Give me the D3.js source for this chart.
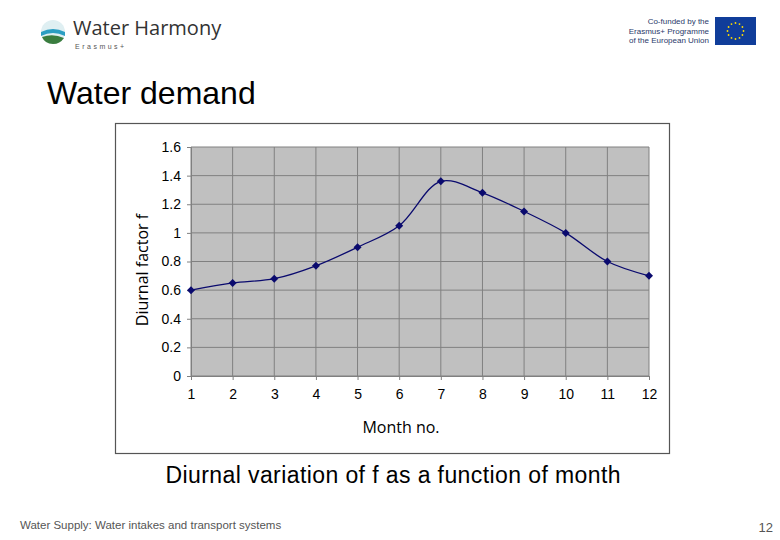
<!DOCTYPE html>
<html><head><meta charset="utf-8">
<script src="https://cdn.jsdelivr.net/npm/d3@7"></script>
<style>body{margin:0;background:#fff}</style></head>
<body><svg id="c" width="780" height="540"></svg>
<script>
const months = [1,2,3,4,5,6,7,8,9,10,11,12];
const factor = [0.6,0.65,0.68,0.77,0.9,1.05,1.36,1.28,1.15,1.0,0.8,0.7];
const yTicks = [0,0.2,0.4,0.6,0.8,1,1.2,1.4,1.6];

const svg = d3.select("#c");
const F = "Liberation Sans, Arial, sans-serif";

// Logo left
const lg = svg.append("g");
lg.append("circle").attr("cx",53).attr("cy",32).attr("r",12).attr("fill","#dfeff2");
lg.append("path").attr("d","M41,32 Q53,26 65,32 L65,36 Q53,30 41,36Z").attr("fill","#2b9ec2");
lg.append("path").attr("d","M42,37 Q53,33 64,38 Q60,44 53,44 Q45,44 42,37Z").attr("fill","#3a7d3f");
lg.append("text").attr("x",73).attr("y",35).attr("font-family","Open Sans, sans-serif").attr("font-size",20).attr("fill","#333").text("Water Harmony");
lg.append("text").attr("x",75).attr("y",49).attr("font-family",F).attr("font-size",7).attr("letter-spacing",2.5).attr("fill","#555").text("Erasmus+");

// EU logo
const eu = svg.append("g");
["Co-funded by the","Erasmus+ Programme","of the European Union"].forEach((t,i)=>
  eu.append("text").attr("x",709).attr("y",24+i*9.5).attr("text-anchor","end").attr("font-family",F).attr("font-size",8).attr("fill","#2a3a6a").text(t));
eu.append("rect").attr("x",715).attr("y",17).attr("width",41).attr("height",28).attr("fill","#103d9a");
for(let k=0;k<12;k++){const a=k*Math.PI/6;
  eu.append("circle").attr("cx",735.5+8*Math.cos(a)).attr("cy",31+8*Math.sin(a)).attr("r",0.9).attr("fill","#ffdd00");}

svg.append("text").attr("x",47).attr("y",104).attr("font-family",F).attr("font-size",32).attr("fill","#000").text("Water demand");

// Chart frame
svg.append("rect").attr("x",115.5).attr("y",123.5).attr("width",554).attr("height",330).attr("fill","#fff").attr("stroke","#555").attr("stroke-width",1.2);

const x = d3.scaleLinear().domain([1,12]).range([191,649]);
const y = d3.scaleLinear().domain([0,1.6]).range([376,147]);

svg.append("rect").attr("x",x(1)).attr("y",y(1.6)).attr("width",x(12)-x(1)).attr("height",y(0)-y(1.6)).attr("fill","#c0c0c0");

const g = svg.append("g");
g.selectAll(".hg").data(yTicks).join("line").attr("x1",x(1)).attr("x2",x(12)).attr("y1",d=>y(d)).attr("y2",d=>y(d)).attr("stroke","#808080").attr("stroke-width",1);
g.selectAll(".vg").data(months).join("line").attr("x1",d=>x(d)).attr("x2",d=>x(d)).attr("y1",y(0)).attr("y2",y(1.6)).attr("stroke","#808080").attr("stroke-width",1);

const ya = svg.append("g").attr("transform",`translate(${x(1)},0)`).call(d3.axisLeft(y).tickValues(yTicks).tickSize(4).tickFormat(d3.format("")));
const xa = svg.append("g").attr("transform",`translate(0,${y(0)})`).call(d3.axisBottom(x).tickValues(months).tickSize(4).tickPadding(9).tickFormat(d3.format("d")));
[ya,xa].forEach(a=>{a.select(".domain").attr("stroke","#808080");a.selectAll("line").attr("stroke","#808080");a.selectAll("text").attr("font-family",F).attr("font-size",14).attr("fill","#000");});
ya.selectAll("text").attr("dx",-3);

const pts = months.map((m,i)=>[m,factor[i]]);
svg.append("path").datum(pts).attr("fill","none").attr("stroke","#0a0a6e").attr("stroke-width",1.3)
  .attr("d",d3.line().x(d=>x(d[0])).y(d=>y(d[1])).curve(d3.curveCatmullRom.alpha(0.5)));
svg.selectAll(".pt").data(pts).join("path").attr("transform",d=>`translate(${x(d[0])},${y(d[1])})`)
  .attr("d","M0,-4L4,0L0,4L-4,0Z").attr("fill","#0a0a6e");

svg.append("text").attr("transform","translate(148,270) rotate(-90)").attr("text-anchor","middle").attr("font-family","Open Sans, sans-serif").attr("font-size",16).attr("fill","#000").text("Diurnal factor f");
svg.append("text").attr("x",401).attr("y",433).attr("text-anchor","middle").attr("font-family","Open Sans, sans-serif").attr("font-size",16).attr("fill","#000").text("Month no.");

svg.append("text").attr("x",393).attr("y",483).attr("text-anchor","middle").attr("font-family",F).attr("font-size",23).attr("textLength",455).attr("fill","#000").text("Diurnal variation of f as a function of month");
svg.append("text").attr("x",20).attr("y",529).attr("font-family",F).attr("font-size",11.5).attr("fill","#555").text("Water Supply: Water intakes and transport systems");
svg.append("text").attr("x",773).attr("y",532).attr("text-anchor","end").attr("font-family",F).attr("font-size",13).attr("fill","#555").text("12");
</script></body></html>
